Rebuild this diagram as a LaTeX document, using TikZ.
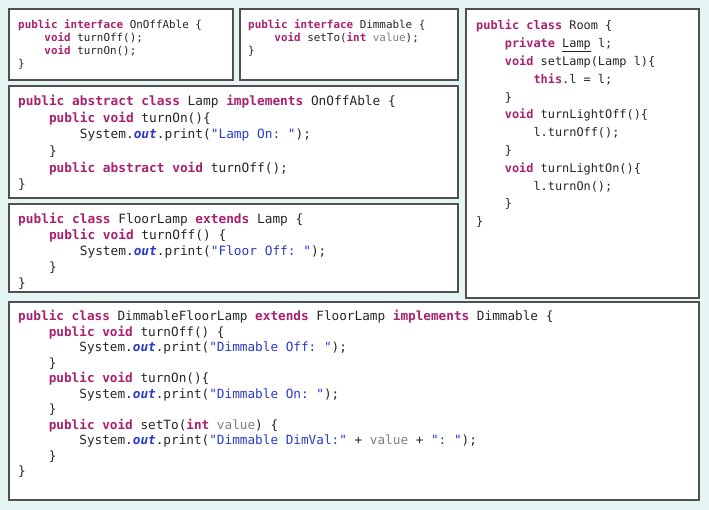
\documentclass[tikz,border=0pt]{standalone}
\usepackage{fontspec}
\setmonofont{DejaVu Sans Mono}
\definecolor{bgc}{HTML}{E4F5F3}
\definecolor{kwc}{HTML}{A8206E}
\definecolor{stc}{HTML}{2A3AC8}
\definecolor{bdc}{HTML}{505050}
\newcommand\kw[1]{\textcolor{kwc}{\textbf{#1}}}
\newcommand\st[1]{\textcolor{stc}{#1}}
\newcommand\outw{\textcolor{stc}{\textbf{\textit{out}}}}
\newcommand\vl{\textcolor{gray}{value}}
\newcommand\ind[1]{\hspace*{#1\fontcharwd\font`x}}
\tikzset{
  box/.style={draw=bdc,line width=1.4pt,fill=white},
  code/.style={anchor=north west,inner sep=0pt,align=left,text=black!85}
}
\begin{document}
\begin{tikzpicture}[x=1pt,y=-1pt]
\fill[bgc] (0,0) rectangle (709,510);
\useasboundingbox (0,0) rectangle (709,510);
\draw[box] (9,9) rectangle (233,80);
\draw[box] (240,9) rectangle (458,80);
\draw[box] (9,86) rectangle (458,198);
\draw[box] (9,204) rectangle (458,292);
\draw[box] (466,9) rectangle (699,298);
\draw[box] (9,302) rectangle (699,500);
\node[code,font=\ttfamily\fontsize{10.9}{13.3}\selectfont] (onoff) at (18,19) {%
\kw{public interface} OnOffAble \{\\
\ind4\kw{void} turnOff();\\
\ind4\kw{void} turnOn();\\
\}};
\node[code,font=\ttfamily\fontsize{10.9}{13.3}\selectfont] (dim) at (248,19) {%
\kw{public interface} Dimmable \{\\
\ind4\kw{void} setTo(\kw{int} \vl);\\
\}};
\node[code,font=\ttfamily\fontsize{12.8}{16.6}\selectfont] (lamp) at (18,95) {%
\kw{public abstract class} Lamp \kw{implements} OnOffAble \{\\
\ind4\kw{public void} turnOn()\{\\
\ind8System.\outw.print(\st{"Lamp On: "});\\
\ind4\}\\
\ind4\kw{public abstract void} turnOff();\\
\}};
\node[code,font=\ttfamily\fontsize{12.8}{16}\selectfont] (floor) at (18,213) {%
\kw{public class} FloorLamp \kw{extends} Lamp \{\\
\ind4\kw{public void} turnOff() \{\\
\ind8System.\outw.print(\st{"Floor Off: "});\\
\ind4\}\\
\}};
\node[code,font=\ttfamily\fontsize{11.9}{17.8}\selectfont] (room) at (476,20) {%
\kw{public class} Room \{\\
\ind4\kw{private} \underline{Lamp} l;\\
\ind4\kw{void} setLamp(Lamp l)\{\\
\ind8\kw{this}.l = l;\\
\ind4\}\\
\ind4\kw{void} turnLightOff()\{\\
\ind8l.turnOff();\\
\ind4\}\\
\ind4\kw{void} turnLightOn()\{\\
\ind8l.turnOn();\\
\ind4\}\\
\}};
\node[code,font=\ttfamily\fontsize{12.7}{15.5}\selectfont] (dfl) at (18,310) {%
\kw{public class} DimmableFloorLamp \kw{extends} FloorLamp \kw{implements} Dimmable \{\\
\ind4\kw{public void} turnOff() \{\\
\ind8System.\outw.print(\st{"Dimmable Off: "});\\
\ind4\}\\
\ind4\kw{public void} turnOn()\{\\
\ind8System.\outw.print(\st{"Dimmable On: "});\\
\ind4\}\\
\ind4\kw{public void} setTo(\kw{int} \vl) \{\\
\ind8System.\outw.print(\st{"Dimmable DimVal:"} + \vl{} + \st{": "});\\
\ind4\}\\
\}};
\end{tikzpicture}
\end{document}
